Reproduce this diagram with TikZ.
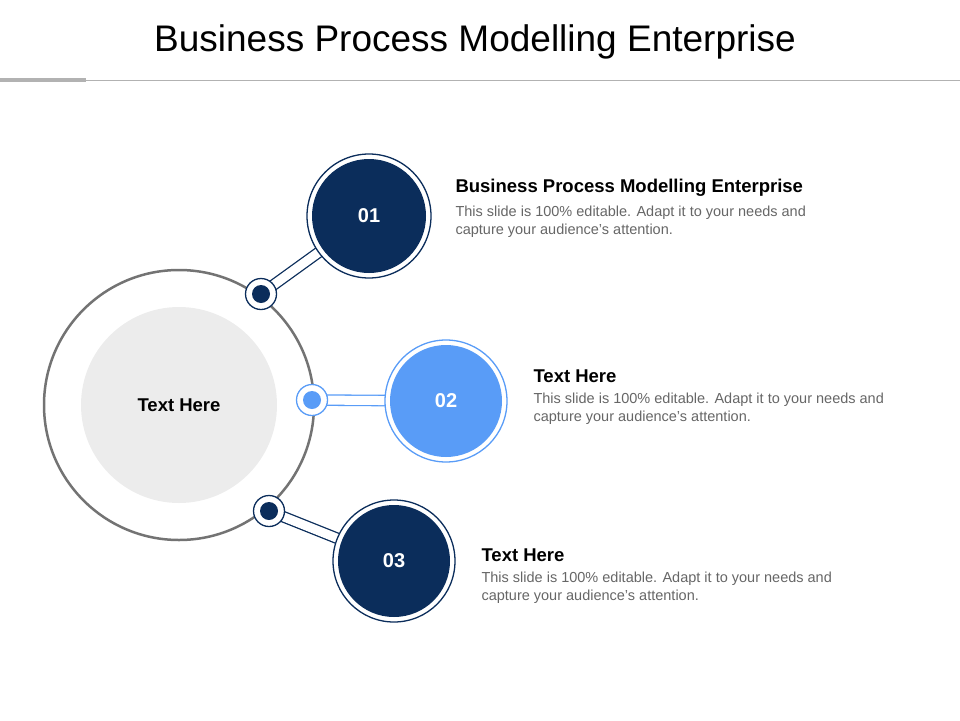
\documentclass[tikz,border=0pt]{standalone}
\usepackage{fontspec}
\setmainfont{Liberation Sans}
\begin{document}
\begin{tikzpicture}[x=1pt,y=-1pt,
  bar/.style={draw=#1,double=white,double distance=9pt,line width=1.3pt},
  ring/.style={circle,draw=#1,line width=1.3pt,fill=white,inner sep=0pt},
  num/.style={circle,fill=#1,inner sep=0pt,minimum size=110pt,text=white,font=\fontsize{20}{24}\selectfont\bfseries},
  hd/.style={anchor=west,font=\fontsize{18.5}{22}\selectfont\bfseries,text=black},
  bd/.style={anchor=north west,align=left,text=gray!80!black,font=\fontsize{14.5}{18.5}\selectfont}]
\definecolor{nv}{HTML}{0B2D5B}
\definecolor{lb}{HTML}{599CF7}
\useasboundingbox (0,0) rectangle (960,720);
\node (title) at (475,42) {\fontsize{37}{42}\selectfont Business Process Modelling Enterprise};
\draw[gray!60,line width=0.8pt] (86,80) -- (960,80);
\draw[gray!60,line width=4pt] (0,80) -- (86,80);
\node[circle,draw=gray!90!black,line width=2.5pt,minimum size=270pt] (big) at (179,405) {};
\node[circle,fill=gray!15,minimum size=196pt,inner sep=0pt] (inner) at (179,405) {\fontsize{18.5}{22}\selectfont\bfseries Text Here};
\coordinate (d1) at (261,294); \coordinate (d2) at (312,400); \coordinate (d3) at (269,511);
\coordinate (c1) at (369,216); \coordinate (c2) at (446,401); \coordinate (c3) at (394,561);
\draw[bar=nv] (d1) -- (c1);
\draw[bar=lb] (d2) -- (c2);
\draw[bar=nv] (d3) -- (c3);
\foreach \i/\c in {1/nv,2/lb,3/nv}{
  \node[ring=\c,minimum size=31pt] (r\i) at (d\i) {};
  \node[circle,fill=\c,minimum size=18pt,inner sep=0pt] (s\i) at (d\i) {};
}
\node[ring=nv,minimum size=124pt] (o1) at (c1) {};
\node[num=nv,minimum size=114pt] (n1) at (c1) {01};
\node[ring=lb,minimum size=122pt] (o2) at (c2) {};
\node[num=lb,minimum size=112pt] (n2) at (c2) {02};
\node[ring=nv,minimum size=122pt] (o3) at (c3) {};
\node[num=nv,minimum size=112pt] (n3) at (c3) {03};
\node[hd] (h1) at (452,188) {Business Process Modelling Enterprise};
\node[bd] (b1) at (452,202) {This slide is 100\% editable. Adapt it to your needs and\\capture your audience's attention.};
\node[hd] (h2) at (530,376) {Text Here};
\node[bd] (b2) at (530,389) {This slide is 100\% editable. Adapt it to your needs and\\capture your audience's attention.};
\node[hd] (h3) at (478,555) {Text Here};
\node[bd] (b3) at (478,568) {This slide is 100\% editable. Adapt it to your needs and\\capture your audience's attention.};
\end{tikzpicture}
\end{document}
